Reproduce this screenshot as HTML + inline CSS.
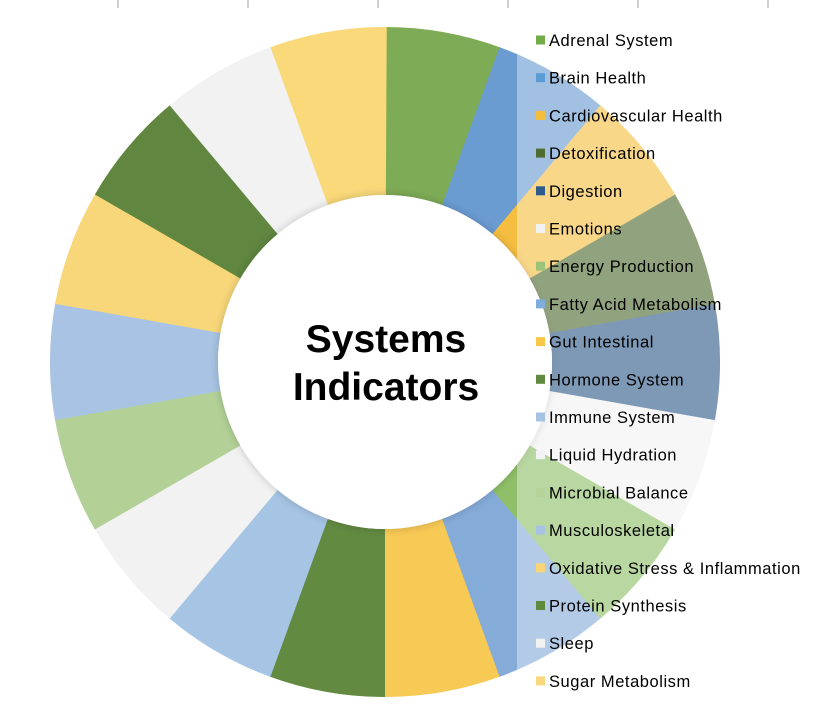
<!DOCTYPE html>
<html><head><meta charset="utf-8"><style>
html,body{margin:0;padding:0;background:#fff;}
body{width:830px;height:716px;position:relative;overflow:hidden;font-family:"Liberation Sans",sans-serif;}
</style></head><body>
<svg id="s" width="830" height="716" viewBox="0 0 830 716" xmlns="http://www.w3.org/2000/svg">
<defs>
<filter id="sh" x="-10%" y="-10%" width="120%" height="120%"><feGaussianBlur stdDeviation="4"/></filter>
</defs>
<g stroke="#d0d0d0" stroke-width="2">
<line x1="118" y1="0" x2="118" y2="8"/><line x1="248" y1="0" x2="248" y2="8"/><line x1="378" y1="0" x2="378" y2="8"/>
<line x1="508" y1="0" x2="508" y2="8"/><line x1="638" y1="0" x2="638" y2="8"/><line x1="768" y1="0" x2="768" y2="8"/>
</g>
<g id="slices"></g>
<circle cx="385" cy="362" r="168" fill="#000" opacity="0.15" filter="url(#sh)"/>
<circle cx="385" cy="362" r="167" fill="#fff"/>
<rect x="517" y="22" width="306" height="680" fill="#fff" opacity="0.38"/>
<g font-family="Liberation Sans, sans-serif" font-weight="bold" font-size="39" text-anchor="middle" fill="#000">
<text x="386" y="352">Systems</text>
<text x="386" y="400">Indicators</text>
</g>
<g id="leg" font-family="Liberation Sans, sans-serif" font-size="16.5" letter-spacing="0.55" fill="#000"></g>
</svg>
<script>
var cx=385,cy=362,R=335,r=167;
var sc=["#7eab55","#6a9bd1","#f5be41","#4e6b30","#2e5b8a","#f2f2f2","#8fbf68","#85acd8","#f7c955","#628a41","#a6c4e4","#f2f2f2","#b3d197","#a8c3e3","#f8d77a","#608640","#f2f2f2","#f9d97a"];
var lc=["#70ad47","#5b9bd5","#f5bd3c","#4e6b30","#2e5b8a","#f2f2f2","#9bc47a","#7faedc","#f8c74a","#5e8b3e","#a4c2e4","#f2f2f2","#b6d39b","#a7c2e3","#f9d675","#5f8b3f","#f2f2f2","#f9d77c"];
var names=["Adrenal System","Brain Health","Cardiovascular Health","Detoxification","Digestion","Emotions","Energy Production","Fatty Acid Metabolism","Gut Intestinal","Hormone System","Immune System","Liquid Hydration","Microbial Balance","Musculoskeletal","Oxidative Stress & Inflammation","Protein Synthesis","Sleep","Sugar Metabolism"];
var g=document.getElementById('slices'),ns="http://www.w3.org/2000/svg";
function pt(a,rad){a=a*Math.PI/180;return [(cx+rad*Math.sin(a)).toFixed(2),(cy-rad*Math.cos(a)).toFixed(2)];}
for(var i=0;i<18;i++){var a0=i*20,a1=a0+20.3;var p1=pt(a0,R),p2=pt(a1,R),p3=pt(a1,r),p4=pt(a0,r);
var p=document.createElementNS(ns,'path');
p.setAttribute('d','M'+p1+' A'+R+' '+R+' 0 0 1 '+p2+' L'+p3+' A'+r+' '+r+' 0 0 0 '+p4+'Z');
p.setAttribute('fill',sc[i]);g.appendChild(p);}
var L=document.getElementById('leg');
for(var i=0;i<18;i++){var y=40+i*37.7;
var q=document.createElementNS(ns,'rect');q.setAttribute('x',536);q.setAttribute('y',(y-4.5).toFixed(1));q.setAttribute('width',9);q.setAttribute('height',9);q.setAttribute('fill',lc[i]);L.appendChild(q);
var t=document.createElementNS(ns,'text');t.setAttribute('x',549);t.setAttribute('y',(y+6).toFixed(1));t.textContent=names[i];L.appendChild(t);}
</script>
</body></html>
